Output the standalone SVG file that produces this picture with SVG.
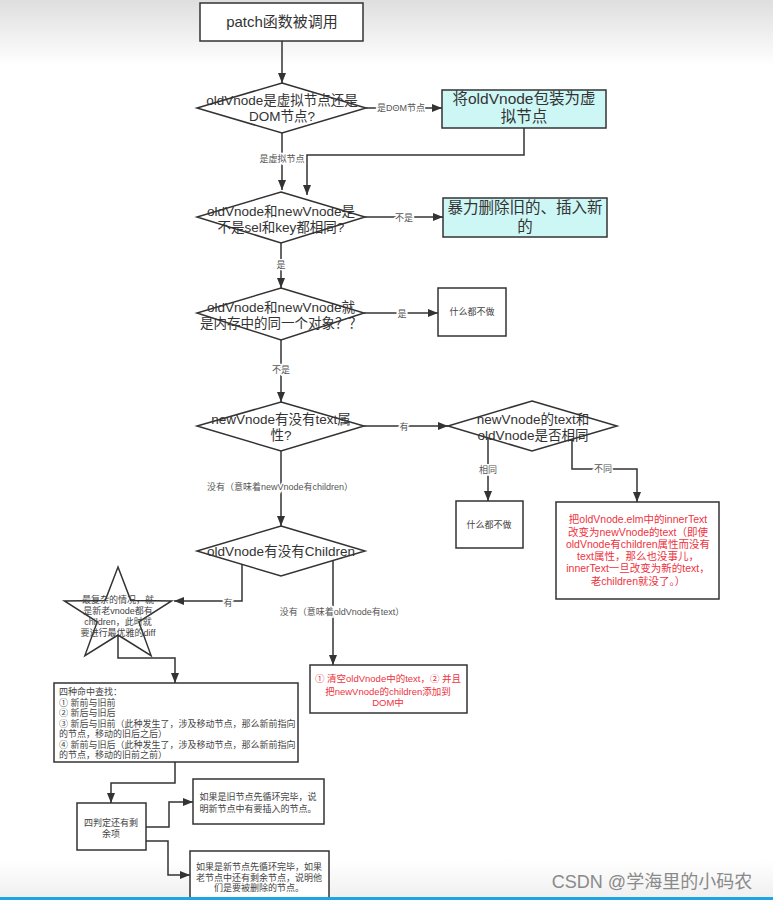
<svg xmlns="http://www.w3.org/2000/svg" width="773" height="900" viewBox="0 0 773 900">
<defs>
<linearGradient id="bg" x1="0" y1="0" x2="0" y2="1">
<stop offset="0" stop-color="#dedede"/>
<stop offset="1" stop-color="#ffffff"/>
</linearGradient>
<linearGradient id="bg2" x1="0" y1="0" x2="0" y2="1">
<stop offset="0" stop-color="#ffffff"/>
<stop offset="1" stop-color="#f0f0f0"/>
</linearGradient>
<marker id="arr" markerUnits="userSpaceOnUse" markerWidth="10" markerHeight="10" refX="10" refY="5" orient="auto">
<path d="M0,1 L10,5 L0,9 z" fill="#333"/>
</marker>
<style>
text{font-family:"Liberation Sans","Noto Sans CJK SC",sans-serif;fill:#333;text-anchor:middle}
.shape{fill:#fff;stroke:#333;stroke-width:1.5}
.cyan{fill:#cdf7f5;stroke:#333;stroke-width:1.5}
.big{font-size:15px}
.dia{font-size:13.5px}
.box{font-size:15.5px}
.sm{font-size:9px;fill:#444}
.red{font-size:10.5px;fill:#ee3340}
.red2{font-size:9.5px;fill:#ee3340}
.lbl{font-size:9px;fill:#555;stroke:#fff;stroke-width:3;paint-order:stroke}
.conn path{fill:none;stroke:#333;stroke-width:1.5}
.left{text-anchor:start}
</style>
</defs>
<rect x="0" y="0" width="773" height="900" fill="#fff"/>
<rect x="0" y="0" width="773" height="65" fill="url(#bg)"/>
<rect x="0" y="860" width="773" height="37" fill="url(#bg2)"/>

<g id="start">
<rect class="shape" x="200" y="3" width="163" height="38"/>
<text class="big" x="282" y="27">patch函数被调用</text>
</g>

<g id="isVnode">
<polygon class="shape" points="282,83 366,108 282,133 197,108"/>
<text class="dia" x="282" y="105">oldVnode是虚拟节点还是</text>
<text class="dia" x="282" y="121">DOM节点?</text>
</g>

<g id="wrap">
<rect class="cyan" x="442" y="90" width="164" height="38"/>
<text class="box" x="524" y="104">将oldVnode包装为虚</text>
<text class="box" x="524" y="122">拟节点</text>
</g>

<g id="sameNode">
<polygon class="shape" points="281,192 365,217 281,243 197,217"/>
<text class="dia" x="281" y="216">oldVnode和newVnode是</text>
<text class="dia" x="281" y="232">不是sel和key都相同?</text>
</g>

<g id="replace">
<rect class="cyan" x="443" y="198" width="164" height="39"/>
<text class="box" x="525" y="213">暴力删除旧的、插入新</text>
<text class="box" x="525" y="232">的</text>
</g>

<g id="sameObj">
<polygon class="shape" points="281,288 364,313 281,340 197,313"/>
<text class="dia" x="281" y="312">oldVnode和newVnode就</text>
<text class="dia" x="281" y="328">是内存中的同一个对象？？</text>
</g>

<g id="nothing1">
<rect class="shape" x="438" y="288" width="68" height="48"/>
<text class="sm" x="472" y="315">什么都不做</text>
</g>

<g id="hasText">
<polygon class="shape" points="281,402 364,426 281,451 197,426"/>
<text class="dia" x="281" y="424">newVnode有没有text属</text>
<text class="dia" x="281" y="440">性?</text>
</g>

<g id="textSame">
<polygon class="shape" points="532,401 617,426 532,451 448,426"/>
<text class="dia" x="533" y="424">newVnode的text和</text>
<text class="dia" x="533" y="440">oldVnode是否相同</text>
</g>

<g id="nothing2">
<rect class="shape" x="456" y="501" width="67" height="47"/>
<text class="sm" x="489" y="528">什么都不做</text>
</g>

<g id="setText">
<rect class="shape" x="556" y="502" width="163" height="97"/>
<text class="red" x="638" y="523">把oldVnode.elm中的innerText</text>
<text class="red" x="638" y="536">改变为newVnode的text（即使</text>
<text class="red" x="638" y="548">oldVnode有children属性而没有</text>
<text class="red" x="638" y="560">text属性，那么也没事儿，</text>
<text class="red" x="638" y="572">innerText一旦改变为新的text，</text>
<text class="red" x="638" y="585">老children就没了。）</text>
</g>

<g id="hasChildren">
<polygon class="shape" points="281,526 365,551 281,576 197,551"/>
<text class="dia" x="281" y="556">oldVnode有没有Children</text>
</g>

<g id="diff">
<polygon class="shape" points="118,567 130.8,600.6 171.6,601 138.8,621.9 151.1,655.6 118,635 84.9,655.6 97.2,621.9 64.4,601 105.2,600.6"/>
<text class="sm" x="118" y="603">最复杂的情况，就</text>
<text class="sm" x="118" y="614">是新老vnode都有</text>
<text class="sm" x="118" y="625">children，此时就</text>
<text class="sm" x="118" y="636">要进行最优雅的diff</text>
</g>

<g id="addChildren">
<rect class="shape" x="310" y="665" width="157" height="48"/>
<text class="red2" x="388" y="682">① 清空oldVnode中的text，② 并且</text>
<text class="red2" x="388" y="695">把newVnode的children添加到</text>
<text class="red2" x="388" y="706">DOM中</text>
</g>

<g id="fourHits">
<rect class="shape" x="54" y="683" width="244" height="79"/>
<text class="sm left" x="59" y="695">四种命中查找：</text>
<text class="sm left" x="59" y="705.5">① 新前与旧前</text>
<text class="sm left" x="59" y="716">② 新后与旧后</text>
<text class="sm left" x="59" y="726.5">③ 新后与旧前（此种发生了，涉及移动节点，那么新前指向</text>
<text class="sm left" x="59" y="737">的节点，移动的旧后之后）</text>
<text class="sm left" x="59" y="747.5">④ 新前与旧后（此种发生了，涉及移动节点，那么新前指向</text>
<text class="sm left" x="59" y="758">的节点，移动的旧前之前）</text>
</g>

<g id="remain">
<rect class="shape" x="77" y="803" width="69" height="47"/>
<text class="sm" x="111" y="826">四判定还有剩</text>
<text class="sm" x="111" y="837">余项</text>
</g>

<g id="insert">
<rect class="shape" x="193" y="779" width="131" height="45"/>
<text class="sm" x="258" y="800">如果是旧节点先循环完毕，说</text>
<text class="sm" x="258" y="812">明新节点中有要插入的节点。</text>
</g>

<g id="remove">
<rect class="shape" x="190" y="851" width="139" height="48"/>
<text class="sm" x="259" y="870">如果是新节点先循环完毕，如果</text>
<text class="sm" x="259" y="880.5">老节点中还有剩余节点，说明他</text>
<text class="sm" x="259" y="891">们是要被删除的节点。</text>
</g>

<g id="connectors" class="conn">
<path d="M282,41 V83" marker-end="url(#arr)"/>
<path d="M366,108 H442" marker-end="url(#arr)"/>
<path d="M282,133 V190" marker-end="url(#arr)"/>
<path d="M524,128 V155 H307 V195" marker-end="url(#arr)"/>
<path d="M365,217 H443" marker-end="url(#arr)"/>
<path d="M281,243 V288" marker-end="url(#arr)"/>
<path d="M364,313 H438" marker-end="url(#arr)"/>
<path d="M281,340 V402" marker-end="url(#arr)"/>
<path d="M364,426 H448" marker-end="url(#arr)"/>
<path d="M488,438 V501" marker-end="url(#arr)"/>
<path d="M572,439 V469 H637 V502" marker-end="url(#arr)"/>
<path d="M281,451 V526" marker-end="url(#arr)"/>
<path d="M242,564 V601 H174" marker-end="url(#arr)"/>
<path d="M333,560 V665" marker-end="url(#arr)"/>
<path d="M118,635 V658 H175 V683" marker-end="url(#arr)"/>
<path d="M175,762 V783 H111 V803" marker-end="url(#arr)"/>
<path d="M146,827 H169 V802 H193" marker-end="url(#arr)"/>
<path d="M146,841 H168 V875 H190" marker-end="url(#arr)"/>
<text class="lbl" x="401" y="111">是DOM节点</text>
<text class="lbl" x="282" y="162">是虚拟节点</text>
<text class="lbl" x="404" y="221">不是</text>
<text class="lbl" x="281" y="268">是</text>
<text class="lbl" x="402" y="317">是</text>
<text class="lbl" x="281" y="373">不是</text>
<text class="lbl" x="404" y="430">有</text>
<text class="lbl" x="488" y="473">相同</text>
<text class="lbl" x="603" y="472">不同</text>
<text class="lbl" x="280" y="490">没有（意味着newVnode有children）</text>
<text class="lbl" x="228" y="606">有</text>
<text class="lbl" x="342" y="615">没有（意味着oldVnode有text）</text>
</g>

<text x="652" y="888" style="font-size:18px;fill:#8a8a8a">CSDN @学海里的小码农</text>
<rect x="0" y="897" width="773" height="3" fill="#1ea5e3"/>
</svg>
